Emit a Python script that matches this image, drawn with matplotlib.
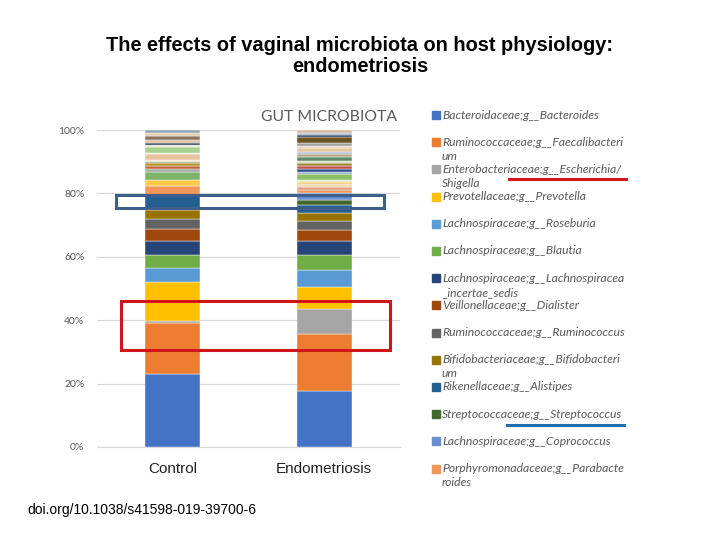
import numpy as np
import matplotlib.pyplot as pl
from matplotlib.patches import Rectangle
from matplotlib.lines import Line2D

output_fn = 'out.png'
W, H = 720, 540

groups = ['Control', 'Endometriosis']

taxa = ['Bacteroidaceae;g__Bacteroides',
        'Ruminococcaceae;g__Faecalibacteri\num',
        'Enterobacteriaceae;g__Escherichia/\nShigella',
        'Prevotellaceae;g__Prevotella',
        'Lachnospiraceae;g__Roseburia',
        'Lachnospiraceae;g__Blautia',
        'Lachnospiraceae;g__Lachnospiracea\n_incertae_sedis',
        'Veillonellaceae;g__Dialister',
        'Ruminococcaceae;g__Ruminococcus',
        'Bifidobacteriaceae;g__Bifidobacteri\num',
        'Rikenellaceae;g__Alistipes',
        'Streptococcaceae;g__Streptococcus',
        'Lachnospiraceae;g__Coprococcus',
        'Porphyromonadaceae;g__Parabacte\nroides']
taxa_colors = ['#4472C4', '#ED7D31', '#A5A5A5', '#FFC000', '#5B9BD5', '#70AD47',
               '#264478', '#9E480E', '#636363', '#997300', '#255E91', '#43682B',
               '#698ED0', '#F1975A']

# relative abundance (%) of the named genera, bottom to top
control = [23.0, 16.0, 0.7, 12.3, 4.6, 4.0, 4.5, 3.8, 3.1, 2.8, 4.3, 0.2, 0.2, 2.7]
endometriosis = [17.8, 17.7, 8.0, 7.1, 5.1, 4.9, 4.5, 3.2, 3.1, 2.3, 2.5, 1.7, 2.1, 1.1]

# the many small genera above them (not in the visible part of the legend)
control_rest = [2.0, 2.6, 0.8, 1.0, 0.9, 0.5, 0.5, 1.9, 0.4, 1.9, 0.6, 0.7, 0.8, 1.3, 0.9, 1.0]
control_rest_colors = ['#FFC94A', '#7DB36A', '#A5A5A5', '#C0653A', '#B8962E', '#5A7A3A',
                       '#F0E0C8', '#E8C3A0', '#E0E8D0', '#A9D18E', '#DDE8D5', '#2F3B55',
                       '#D9BFA0', '#8B7560', '#E2CFB0', '#8FA6B8']
endo_rest = [1.0, 0.8, 0.8, 0.5, 1.8, 0.8, 0.9, 1.0, 0.8, 0.7, 1.4, 0.7, 0.9, 1.0,
             0.8, 0.8, 1.9, 0.7, 0.6, 1.0]
endo_rest_colors = ['#E0A080', '#EFD9B0', '#F6C85F', '#DCE6C8', '#8CC168', '#8FAACC',
                    '#2F4F8F', '#C0504D', '#A08A40', '#D8D8C0', '#5F8A6A', '#B8A888',
                    '#A8BCD0', '#E0C8A0', '#EAD0C0', '#A0A0A0', '#6B5420', '#1F3864',
                    '#A8B8C8', '#D8B8A0']

yticks = [0, 20, 40, 60, 80, 100]

excel_grey = '#595959'
grid_grey = '#D9D9D9'

fig = pl.figure(figsize=(W / 100, H / 100), dpi=100)
fig.patch.set_facecolor('white')

ax = fig.add_axes([97 / W, 93 / H, 303 / W, 317 / H])
x = np.arange(len(groups))
bw = 0.36


def stack(xpos, vals, cols, start=0.0):
    bottom = start
    for v, c in zip(vals, cols):
        ax.bar(xpos, v, bw, bottom=bottom, color=c, edgecolor='white',
               linewidth=0.3, zorder=3)
        bottom += v
    return bottom


top = stack(x[0], control, taxa_colors)
stack(x[0], control_rest, control_rest_colors, top)
top = stack(x[1], endometriosis, taxa_colors)
stack(x[1], endo_rest, endo_rest_colors, top)

ax.set_xlim(-0.5, 1.5)
ax.set_ylim(0, 100)
ax.set_yticks(yticks)
ax.set_yticklabels(['{}%'.format(t) for t in yticks], fontsize=7.5,
                   color=excel_grey, family='Lato')
ax.set_xticks(x)
ax.set_xticklabels(groups, fontsize=11, family='Liberation Sans', color='#222222')
ax.tick_params(axis='both', length=0)
ax.tick_params(axis='y', pad=9)
ax.tick_params(axis='x', pad=11)
for s in ['left', 'right', 'top']:
    ax.spines[s].set_visible(False)
ax.spines['bottom'].set_color(grid_grey)
ax.grid(axis='y', color=grid_grey, linewidth=0.9, zorder=0)
ax.set_axisbelow(True)

# Titles
fig.text(0.5, 1 - 56 / H, 'The effects of vaginal microbiota on host physiology:\nendometriosis',
         ha='center', va='center', fontsize=14.4, fontweight='bold',
         family='Liberation Sans', linespacing=1.08)
fig.text(329 / W, 1 - 117 / H, 'GUT MICROBIOTA', ha='center', va='center',
         fontsize=11.3, color=excel_grey, family='Lato')
fig.text(27 / W, 1 - 510 / H, 'doi.org/10.1038/s41598-019-39700-6', ha='left',
         va='center', fontsize=10, family='Liberation Sans')

# Legend, drawn by hand to keep Excel's wrapping
leg_y0, leg_dy = 115, 27.2
for i, (lab, c) in enumerate(zip(taxa, taxa_colors)):
    yy = leg_y0 + i * leg_dy
    fig.add_artist(Rectangle((432 / W, 1 - (yy + 4) / H), 8 / W, 8 / H,
                             transform=fig.transFigure, color=c))
    for k, line in enumerate(lab.split('\n')):
        fig.text(442 / W, 1 - (yy + k * 14) / H, line, ha='left', va='center',
                 fontsize=8.7, style='italic', color=excel_grey, family='Lato')

# Highlight boxes and underlines
fig.add_artist(Rectangle((116 / W, 1 - 208 / H), 268 / W, 13 / H, fill=False,
                         edgecolor='#3E5F8A', linewidth=2.2, transform=fig.transFigure))
fig.add_artist(Rectangle((121 / W, 1 - 349.5 / H), 269 / W, 48.5 / H, fill=False,
                         edgecolor='#D0161A', linewidth=2.2, transform=fig.transFigure))
fig.add_artist(Line2D([509 / W, 626 / W], [1 - 179 / H] * 2, color='#D0161A',
                      linewidth=2.2, transform=fig.transFigure))
fig.add_artist(Line2D([507 / W, 624 / W], [1 - 425 / H] * 2, color='#1F6FB0',
                      linewidth=2.2, transform=fig.transFigure))

pl.savefig(output_fn, dpi=100)
pl.close()
